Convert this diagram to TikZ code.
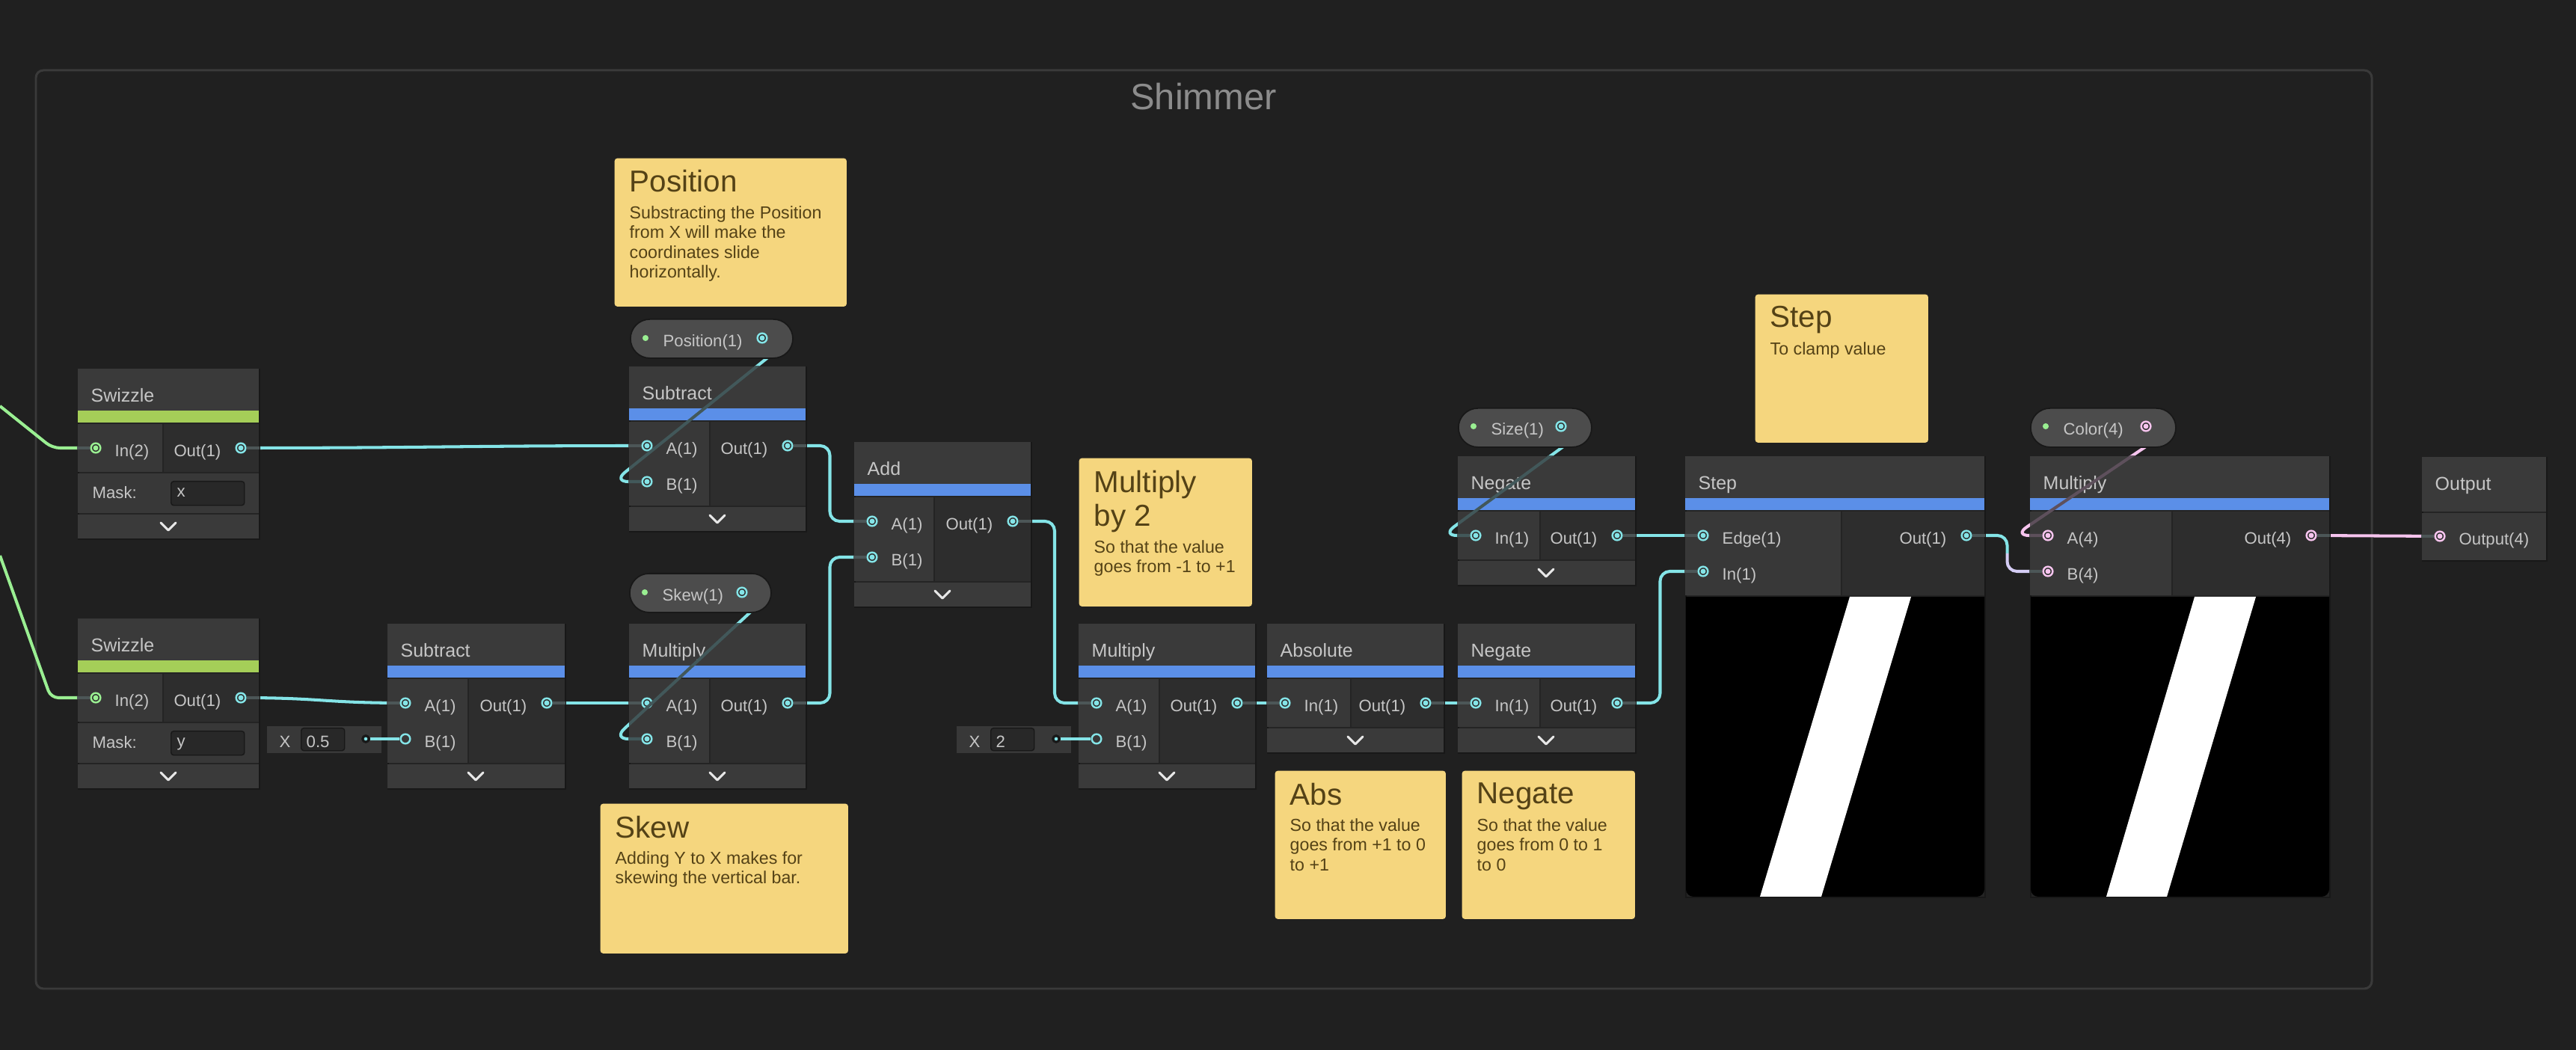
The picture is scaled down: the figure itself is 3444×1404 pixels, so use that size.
\documentclass[tikz,border=0pt]{standalone}
\usepackage{fontspec}
\setmainfont{Liberation Sans}
\usepackage{tikz}
\usetikzlibrary{calc}

\definecolor{canvas}{RGB}{32,32,32}
\definecolor{frameline}{RGB}{58,58,58}
\definecolor{colhead}{RGB}{58,58,58}
\definecolor{colin}{RGB}{56,56,56}
\definecolor{colout}{RGB}{45,45,45}
\definecolor{sepfill}{RGB}{36,36,36}
\definecolor{nodeedge}{RGB}{24,24,24}
\definecolor{barblue}{RGB}{91,143,232}
\definecolor{bargreen}{RGB}{165,206,88}
\definecolor{vone}{RGB}{132,228,231}
\definecolor{vtwo}{RGB}{154,239,146}
\definecolor{vfour}{RGB}{246,196,238}
\definecolor{lilac}{RGB}{212,204,244}
\definecolor{ghostone}{RGB}{66,88,90}
\definecolor{ghostfour}{RGB}{94,80,92}
\definecolor{stubgray}{RGB}{76,86,87}
\definecolor{nodetext}{RGB}{198,198,198}
\definecolor{grouptext}{RGB}{140,140,140}
\definecolor{notefill}{RGB}{245,214,126}
\definecolor{notetext}{RGB}{84,66,22}
\definecolor{pillfill}{RGB}{76,76,76}
\definecolor{fieldfill}{RGB}{40,40,40}
\definecolor{chevcol}{RGB}{232,232,232}

\pgfdeclarelayer{backlayer}
\pgfdeclarelayer{wirelayer}
\pgfsetlayers{backlayer,wirelayer,main}

\begin{document}
\begin{tikzpicture}[
    x=0.01cm, y=-0.01cm,
    every node/.style={inner sep=0pt, text=nodetext, font=\fontsize{6.3}{7.5}\selectfont},
    nodebox/.style={rectangle, draw=nodeedge, line width=0.6pt, fill=sepfill, anchor=north west},
    headtext/.style={anchor=base west, font=\fontsize{7.1}{8.5}\selectfont},
    inlbl/.style={anchor=base west},
    outlbl/.style={anchor=base east},
    slot/.style={circle, draw=#1, line width=0.7pt, fill=colout, minimum size=3.6pt,
      path picture={\fill[#1] (path picture bounding box.center) circle (1pt);}},
    hollow/.style={circle, draw=#1, line width=0.7pt, fill=colin, minimum size=3.6pt},
    stub/.style={stubgray, line width=1.1pt},
    wire/.style={vone, line width=1.15pt, rounded corners=0.13cm},
    ghost/.style={ghostone, line width=1.15pt, rounded corners=0.2cm},
    chev/.style={chevcol, line width=0.85pt, line cap=round, line join=round},
    pill/.style={rectangle, fill=pillfill, draw=nodeedge, line width=0.5pt,
      rounded corners=0.26cm, anchor=north west, minimum height=0.52cm},
    gdot/.style={circle, fill=vtwo, minimum size=2.3pt},
    sticky/.style={rectangle, fill=notefill, rounded corners=1pt, anchor=north west},
    notehead/.style={anchor=north west, text=notetext, align=left, font=\fontsize{11.5}{13}\selectfont},
    notebody/.style={anchor=north west, text=notetext, align=left, font=\fontsize{6.6}{7.5}\selectfont},
    valbox/.style={rectangle, fill=colin, anchor=north west, minimum width=1.53cm, minimum height=0.36cm},
    valfield/.style={rectangle, fill=fieldfill, draw=nodeedge, line width=0.4pt, rounded corners=1pt, anchor=north west},
    valdot/.style={circle, fill=vone, draw=nodeedge, line width=0.9pt, minimum size=2.4pt}
  ]

  % ── Canvas and group ────────────────────────────────────────────────────
  \useasboundingbox (0,0) rectangle (3444,1404);
  \begin{pgfonlayer}{backlayer}
    \fill[canvas] (0,0) rectangle (3444,1404);
    \draw[frameline, line width=0.85pt, rounded corners=0.1cm] (48,94) rectangle (3171,1322);
  \end{pgfonlayer}
  \node[anchor=base, text=grouptext, font=\fontsize{13.9}{16}\selectfont] (grp) at (1609,147) {Shimmer};
  \coordinate (inA) at (0,543);
  \coordinate (inB) at (0,743);

  % ── Sticky notes ────────────────────────────────────────────────────────
  \node[sticky, minimum width=3.10cm, minimum height=1.98cm] (posN) at (821,211) {};
  \node[notehead] (posN-h) at (841,227) {Position};
  \node[notebody] (posN-b) at (841,275) {Substracting the Position\\from X will make the\\coordinates slide\\horizontally.};

  \node[sticky, minimum width=2.31cm, minimum height=1.98cm] (mulN) at (1442,612) {};
  \node[notehead] (mulN-h) at (1462,628) {Multiply\\by 2};
  \node[notebody] (mulN-b) at (1462,722) {So that the value\\goes from -1 to +1};

  \node[sticky, minimum width=3.31cm, minimum height=2.00cm] (skN) at (802,1074) {};
  \node[notehead] (skN-h) at (822,1090) {Skew};
  \node[notebody] (skN-b) at (822,1138) {Adding Y to X makes for\\skewing the vertical bar.};

  \node[sticky, minimum width=2.28cm, minimum height=1.98cm] (absN) at (1704,1030) {};
  \node[notehead] (absN-h) at (1724,1046) {Abs};
  \node[notebody] (absN-b) at (1724,1094) {So that the value\\goes from +1 to 0\\to +1};

  \node[sticky, minimum width=2.31cm, minimum height=1.98cm] (negN) at (1954,1030) {};
  \node[notehead] (negN-h) at (1974,1046) {Negate};
  \node[notebody] (negN-b) at (1974,1094) {So that the value\\goes from 0 to 1\\to 0};

  \node[sticky, minimum width=2.31cm, minimum height=1.98cm] (stepN) at (2346,393) {};
  \node[notehead] (stepN-h) at (2366,409) {Step};
  \node[notebody] (stepN-b) at (2366,457) {To clamp value};

  % ── Swizzle x ───────────────────────────────────────────────────────────
  \node[nodebox, minimum width=2.42cm, minimum height=2.27cm] (swA) at (104,493) {};
  \fill[colhead] (104,493) rectangle (346,549);
  \fill[bargreen] (104,549) rectangle (346,565);
  \fill[colin] (104,567) rectangle (217,631);
  \fill[colout] (219,567) rectangle (346,631);
  \fill[colin] (104,633) rectangle (346,686);
  \fill[colhead] (104,688) rectangle (346,720);
  \node[headtext] (swA-t) at (121,538) {Swizzle};
  \node[slot=vtwo] (swA-in) at (128,599) {};
  \node[inlbl] (swA-il) at (153,611) {In(2)};
  \node[slot=vone] (swA-out) at (322,599) {};
  \node[outlbl] (swA-ol) at (296,611) {Out(1)};
  \node[inlbl] (swA-ml) at (123,667) {Mask:};
  \node[valfield, minimum width=0.98cm, minimum height=0.32cm] (swA-mf) at (228,643) {};
  \node[inlbl] (swA-mv) at (236,665) {x};

  % ── Swizzle y ───────────────────────────────────────────────────────────
  \node[nodebox, minimum width=2.42cm, minimum height=2.27cm] (swB) at (104,827) {};
  \fill[colhead] (104,827) rectangle (346,883);
  \fill[bargreen] (104,883) rectangle (346,899);
  \fill[colin] (104,901) rectangle (217,965);
  \fill[colout] (219,901) rectangle (346,965);
  \fill[colin] (104,967) rectangle (346,1020);
  \fill[colhead] (104,1022) rectangle (346,1054);
  \node[headtext] (swB-t) at (121,872) {Swizzle};
  \node[slot=vtwo] (swB-in) at (128,933) {};
  \node[inlbl] (swB-il) at (153,945) {In(2)};
  \node[slot=vone] (swB-out) at (322,933) {};
  \node[outlbl] (swB-ol) at (296,945) {Out(1)};
  \node[inlbl] (swB-ml) at (123,1001) {Mask:};
  \node[valfield, minimum width=0.98cm, minimum height=0.32cm] (swB-mf) at (228,977) {};
  \node[inlbl] (swB-mv) at (236,999) {y};

  % ── Subtract 0.5 ────────────────────────────────────────────────────────
  \node[nodebox, minimum width=2.37cm, minimum height=2.20cm] (subB) at (518,834) {};
  \fill[colhead] (518,834) rectangle (755,890);
  \fill[barblue] (518,890) rectangle (755,906);
  \fill[colin] (518,908) rectangle (625,1020);
  \fill[colout] (627,908) rectangle (755,1020);
  \fill[colhead] (518,1022) rectangle (755,1054);
  \node[headtext] (subB-t) at (535,879) {Subtract};
  \node[slot=vone] (subB-a) at (542,940) {};
  \node[inlbl] (subB-al) at (567,952) {A(1)};
  \node[hollow=vone] (subB-b) at (542,988) {};
  \node[inlbl] (subB-bl) at (567,1000) {B(1)};
  \node[slot=vone] (subB-out) at (731,940) {};
  \node[outlbl] (subB-ol) at (705,952) {Out(1)};
  \node[valbox] (subBv) at (356,970) {};
  \node[anchor=base] (subBv-x) at (381,1000) {X};
  \node[valfield, minimum width=0.58cm, minimum height=0.30cm] (subBv-f) at (402,973) {};
  \node[inlbl] (subBv-val) at (409,1000) {0.5};
  \node[valdot] (subBv-dot) at (489,988) {};

  % ── Position subtract ───────────────────────────────────────────────────
  \node[pill, minimum width=2.17cm] (posP) at (842,426) {};
  \node[gdot] (posP-dot) at (863,452) {};
  \node[inlbl] (posP-lbl) at (886,464) {Position(1)};
  \node[slot=vone] (posP-port) at (1019,452) {};

  \node[nodebox, minimum width=2.36cm, minimum height=2.20cm] (subA) at (841,490) {};
  \fill[colhead] (841,490) rectangle (1077,546);
  \fill[barblue] (841,546) rectangle (1077,562);
  \fill[colin] (841,564) rectangle (948,676);
  \fill[colout] (950,564) rectangle (1077,676);
  \fill[colhead] (841,678) rectangle (1077,710);
  \node[headtext] (subA-t) at (858,535) {Subtract};
  \node[slot=vone] (subA-a) at (865,596) {};
  \node[inlbl] (subA-al) at (890,608) {A(1)};
  \node[slot=vone] (subA-b) at (865,644) {};
  \node[inlbl] (subA-bl) at (890,656) {B(1)};
  \node[slot=vone] (subA-out) at (1053,596) {};
  \node[outlbl] (subA-ol) at (1027,608) {Out(1)};

  % ── Skew multiply ───────────────────────────────────────────────────────
  \node[pill, minimum width=1.89cm] (skP) at (841,766) {};
  \node[gdot] (skP-dot) at (862,792) {};
  \node[inlbl] (skP-lbl) at (885,804) {Skew(1)};
  \node[slot=vone] (skP-port) at (992,792) {};

  \node[nodebox, minimum width=2.36cm, minimum height=2.20cm] (mulA) at (841,834) {};
  \fill[colhead] (841,834) rectangle (1077,890);
  \fill[barblue] (841,890) rectangle (1077,906);
  \fill[colin] (841,908) rectangle (948,1020);
  \fill[colout] (950,908) rectangle (1077,1020);
  \fill[colhead] (841,1022) rectangle (1077,1054);
  \node[headtext] (mulA-t) at (858,879) {Multiply};
  \node[slot=vone] (mulA-a) at (865,940) {};
  \node[inlbl] (mulA-al) at (890,952) {A(1)};
  \node[slot=vone] (mulA-b) at (865,988) {};
  \node[inlbl] (mulA-bl) at (890,1000) {B(1)};
  \node[slot=vone] (mulA-out) at (1053,940) {};
  \node[outlbl] (mulA-ol) at (1027,952) {Out(1)};

  % ── Add ─────────────────────────────────────────────────────────────────
  \node[nodebox, minimum width=2.36cm, minimum height=2.20cm] (add) at (1142,591) {};
  \fill[colhead] (1142,591) rectangle (1378,647);
  \fill[barblue] (1142,647) rectangle (1378,663);
  \fill[colin] (1142,665) rectangle (1248,777);
  \fill[colout] (1250,665) rectangle (1378,777);
  \fill[colhead] (1142,779) rectangle (1378,811);
  \node[headtext] (add-t) at (1159,636) {Add};
  \node[slot=vone] (add-a) at (1166,697) {};
  \node[inlbl] (add-al) at (1191,709) {A(1)};
  \node[slot=vone] (add-b) at (1166,745) {};
  \node[inlbl] (add-bl) at (1191,757) {B(1)};
  \node[slot=vone] (add-out) at (1354,697) {};
  \node[outlbl] (add-ol) at (1328,709) {Out(1)};

  % ── Multiply 2 ──────────────────────────────────────────────────────────
  \node[nodebox, minimum width=2.36cm, minimum height=2.20cm] (mulB) at (1442,834) {};
  \fill[colhead] (1442,834) rectangle (1678,890);
  \fill[barblue] (1442,890) rectangle (1678,906);
  \fill[colin] (1442,908) rectangle (1549,1020);
  \fill[colout] (1551,908) rectangle (1678,1020);
  \fill[colhead] (1442,1022) rectangle (1678,1054);
  \node[headtext] (mulB-t) at (1459,879) {Multiply};
  \node[slot=vone] (mulB-a) at (1466,940) {};
  \node[inlbl] (mulB-al) at (1491,952) {A(1)};
  \node[hollow=vone] (mulB-b) at (1466,988) {};
  \node[inlbl] (mulB-bl) at (1491,1000) {B(1)};
  \node[slot=vone] (mulB-out) at (1654,940) {};
  \node[outlbl] (mulB-ol) at (1628,952) {Out(1)};
  \node[valbox] (mulBv) at (1278,970) {};
  \node[anchor=base] (mulBv-x) at (1303,1000) {X};
  \node[valfield, minimum width=0.58cm, minimum height=0.30cm] (mulBv-f) at (1324,973) {};
  \node[inlbl] (mulBv-val) at (1331,1000) {2};
  \node[valdot] (mulBv-dot) at (1412,988) {};

  % ── Absolute ────────────────────────────────────────────────────────────
  \node[nodebox, minimum width=2.36cm, minimum height=1.72cm] (absA) at (1694,834) {};
  \fill[colhead] (1694,834) rectangle (1930,890);
  \fill[barblue] (1694,890) rectangle (1930,906);
  \fill[colin] (1694,908) rectangle (1805,972);
  \fill[colout] (1807,908) rectangle (1930,972);
  \fill[colhead] (1694,974) rectangle (1930,1006);
  \node[headtext] (absA-t) at (1711,879) {Absolute};
  \node[slot=vone] (absA-in) at (1718,940) {};
  \node[inlbl] (absA-il) at (1743,952) {In(1)};
  \node[slot=vone] (absA-out) at (1906,940) {};
  \node[outlbl] (absA-ol) at (1880,952) {Out(1)};

  % ── Negate (after Absolute) ─────────────────────────────────────────────
  \node[nodebox, minimum width=2.37cm, minimum height=1.72cm] (negB) at (1949,834) {};
  \fill[colhead] (1949,834) rectangle (2186,890);
  \fill[barblue] (1949,890) rectangle (2186,906);
  \fill[colin] (1949,908) rectangle (2058,972);
  \fill[colout] (2060,908) rectangle (2186,972);
  \fill[colhead] (1949,974) rectangle (2186,1006);
  \node[headtext] (negB-t) at (1966,879) {Negate};
  \node[slot=vone] (negB-in) at (1973,940) {};
  \node[inlbl] (negB-il) at (1998,952) {In(1)};
  \node[slot=vone] (negB-out) at (2162,940) {};
  \node[outlbl] (negB-ol) at (2136,952) {Out(1)};

  % ── Negate size ─────────────────────────────────────────────────────────
  \node[pill, minimum width=1.78cm] (szP) at (1949,545) {};
  \node[gdot] (szP-dot) at (1970,570) {};
  \node[inlbl] (szP-lbl) at (1993,582) {Size(1)};
  \node[slot=vone] (szP-port) at (2087,570) {};

  \node[nodebox, minimum width=2.37cm, minimum height=1.72cm] (negA) at (1949,610) {};
  \fill[colhead] (1949,610) rectangle (2186,666);
  \fill[barblue] (1949,666) rectangle (2186,682);
  \fill[colin] (1949,684) rectangle (2058,748);
  \fill[colout] (2060,684) rectangle (2186,748);
  \fill[colhead] (1949,750) rectangle (2186,782);
  \node[headtext] (negA-t) at (1966,655) {Negate};
  \node[slot=vone] (negA-in) at (1973,716) {};
  \node[inlbl] (negA-il) at (1998,728) {In(1)};
  \node[slot=vone] (negA-out) at (2162,716) {};
  \node[outlbl] (negA-ol) at (2136,728) {Out(1)};

  % ── Step ────────────────────────────────────────────────────────────────
  \node[nodebox, minimum width=4.00cm, minimum height=5.89cm] (step) at (2253,610) {};
  \fill[colhead] (2253,610) rectangle (2653,666);
  \fill[barblue] (2253,666) rectangle (2653,682);
  \fill[colin] (2253,684) rectangle (2461,796);
  \fill[colout] (2463,684) rectangle (2653,796);
  \fill[black] (2254,798) -- (2653,798) [rounded corners=0.1cm] -- (2653,1199) -- (2254,1199) [sharp corners] -- cycle;
  \fill[white] (2473,798) -- (2555,798) -- (2435,1199) -- (2353,1199) -- cycle;
  \node[headtext] (step-t) at (2270,655) {Step};
  \node[slot=vone] (step-e) at (2277,716) {};
  \node[inlbl] (step-el) at (2302,728) {Edge(1)};
  \node[slot=vone] (step-i) at (2277,764) {};
  \node[inlbl] (step-il) at (2302,776) {In(1)};
  \node[slot=vone] (step-out) at (2629,716) {};
  \node[outlbl] (step-ol) at (2603,728) {Out(1)};

  % ── Multiply colour ─────────────────────────────────────────────────────
  \node[pill, minimum width=1.94cm] (coP) at (2714,545) {};
  \node[gdot] (coP-dot) at (2735,570) {};
  \node[inlbl] (coP-lbl) at (2758,582) {Color(4)};
  \node[slot=vfour] (coP-port) at (2869,570) {};

  \node[nodebox, minimum width=4.00cm, minimum height=5.89cm] (mulC) at (2714,610) {};
  \fill[colhead] (2714,610) rectangle (3114,666);
  \fill[barblue] (2714,666) rectangle (3114,682);
  \fill[colin] (2714,684) rectangle (2903,796);
  \fill[colout] (2905,684) rectangle (3114,796);
  \fill[black] (2715,798) -- (3114,798) [rounded corners=0.1cm] -- (3114,1199) -- (2715,1199) [sharp corners] -- cycle;
  \fill[white] (2934,798) -- (3016,798) -- (2897,1199) -- (2816,1199) -- cycle;
  \node[headtext] (mulC-t) at (2731,655) {Multiply};
  \node[slot=vfour] (mulC-a) at (2738,716) {};
  \node[inlbl] (mulC-al) at (2763,728) {A(4)};
  \node[slot=vfour] (mulC-b) at (2738,764) {};
  \node[inlbl] (mulC-bl) at (2763,776) {B(4)};
  \node[slot=vfour] (mulC-out) at (3090,716) {};
  \node[outlbl] (mulC-ol) at (3064,728) {Out(4)};

  % ── Output ──────────────────────────────────────────────────────────────
  \node[nodebox, minimum width=1.66cm, minimum height=1.38cm] (outN) at (3238,611) {};
  \fill[colhead] (3238,611) rectangle (3404,684);
  \fill[colin] (3238,686) rectangle (3404,749);
  \node[headtext] (outN-t) at (3255,656) {Output};
  \node[slot=vfour] (outN-in) at (3262,717) {};
  \node[inlbl] (outN-il) at (3287,729) {Output(4)};

  % ── Port stubs and chevrons ─────────────────────────────────────────────
  \foreach \p in {swA-in, swB-in, subA-a, subA-b, subB-a, add-a, add-b, mulA-a, mulA-b,
                  mulB-a, absA-in, negA-in, negB-in, step-e, step-i, mulC-a, mulC-b, outN-in}
    \draw[stub] (\p.west) -- +(-17,0);
  \foreach \p in {swA-out, swB-out, subA-out, subB-out, add-out, mulA-out, mulB-out,
                  absA-out, negA-out, negB-out, step-out, mulC-out}
    \draw[stub] (\p.east) -- +(17,0);
  \foreach \cx/\cy in {225/704, 225/1038, 636/1038, 959/694, 1260/795, 959/1038,
                       1560/1038, 1812/990, 2067/990, 2067/766}
    \draw[chev] (\cx-10,\cy-5) -- (\cx,\cy+5) -- (\cx+10,\cy-5);

  % ── Connections ─────────────────────────────────────────────────────────
  \begin{pgfonlayer}{wirelayer}
    \draw[wire, vtwo, rounded corners=0.1cm] (inA) -- (70,599) -- (swA-in.center);
    \draw[wire, vtwo, rounded corners=0.1cm] (inB) -- (68,933) -- (swB-in.center);
    \draw[wire] (swA-out.center) .. controls +(250,0) and +(-250,0) .. (subA-a.center);
    \draw[wire] (swB-out.center) .. controls +(110,0) and +(-110,0) .. (subB-a.center);
    \draw[wire] (subB-out.center) -- (mulA-a.center);
    \draw[wire, rounded corners=0.2cm] (posP-port.center) -- ++(40,0)
      -- ($(subA-b.center)+(-45,0)$) -- (subA-b.center);
    \draw[wire, rounded corners=0.2cm] (skP-port.center) -- ++(40,0)
      -- ($(mulA-b.center)+(-45,0)$) -- (mulA-b.center);
    \draw[wire] (subA-out.center) -| ($(subA-out)!0.5!(add-a)$) |- (add-a.center);
    \draw[wire] (mulA-out.center) -| ($(mulA-out)!0.5!(add-b)$) |- (add-b.center);
    \draw[wire] (add-out.center) -| ($(add-out)!0.5!(mulB-a)$) |- (mulB-a.center);
    \draw[wire] (mulB-out.center) -- (absA-in.center);
    \draw[wire] (absA-out.center) -- (negB-in.center);
    \draw[wire] (negB-out.center) -| ($(negB-out)!0.5!(step-i)$) |- (step-i.center);
    \draw[wire, rounded corners=0.2cm] (szP-port.center) -- ++(40,0)
      -- ($(negA-in.center)+(-45,0)$) -- (negA-in.center);
    \draw[wire] (negA-out.center) -- (step-e.center);
    \draw[wire] (step-out.center) -| ($(step-out)!0.5!(mulC-b)$);
    \draw[wire, lilac] ($(step-out)!0.5!(mulC-b)$) |- (mulC-b.center);
    \draw[wire, vfour, rounded corners=0.2cm] (coP-port.center) -- ++(40,0)
      -- ($(mulC-a.center)+(-45,0)$) -- (mulC-a.center);
    \draw[wire, vfour] (mulC-out.center) -- (outN-in.center);
  \end{pgfonlayer}

  % inline values
  \draw[wire] (subBv-dot) -- (subB-b);
  \draw[wire] (mulBv-dot) -- (mulB-b);

  % property wires seen through the nodes
  \begin{scope}
    \clip (subA.north west) rectangle (subA.south east);
    \draw[ghost] (posP-port.center) -- ++(40,0) -- ($(subA-b.center)+(-45,0)$) -- ($(subA-b.center)+(-9,0)$);
  \end{scope}
  \begin{scope}
    \clip (mulA.north west) rectangle (mulA.south east);
    \draw[ghost] (skP-port.center) -- ++(40,0) -- ($(mulA-b.center)+(-45,0)$) -- ($(mulA-b.center)+(-9,0)$);
  \end{scope}
  \begin{scope}
    \clip (negA.north west) rectangle (negA.south east);
    \draw[ghost] (szP-port.center) -- ++(40,0) -- ($(negA-in.center)+(-45,0)$) -- ($(negA-in.center)+(-9,0)$);
  \end{scope}
  \begin{scope}
    \clip (mulC.north west) rectangle (mulC.south east);
    \draw[ghost, ghostfour] (coP-port.center) -- ++(40,0) -- ($(mulC-a.center)+(-45,0)$) -- ($(mulC-a.center)+(-9,0)$);
  \end{scope}

\end{tikzpicture}
\end{document}
